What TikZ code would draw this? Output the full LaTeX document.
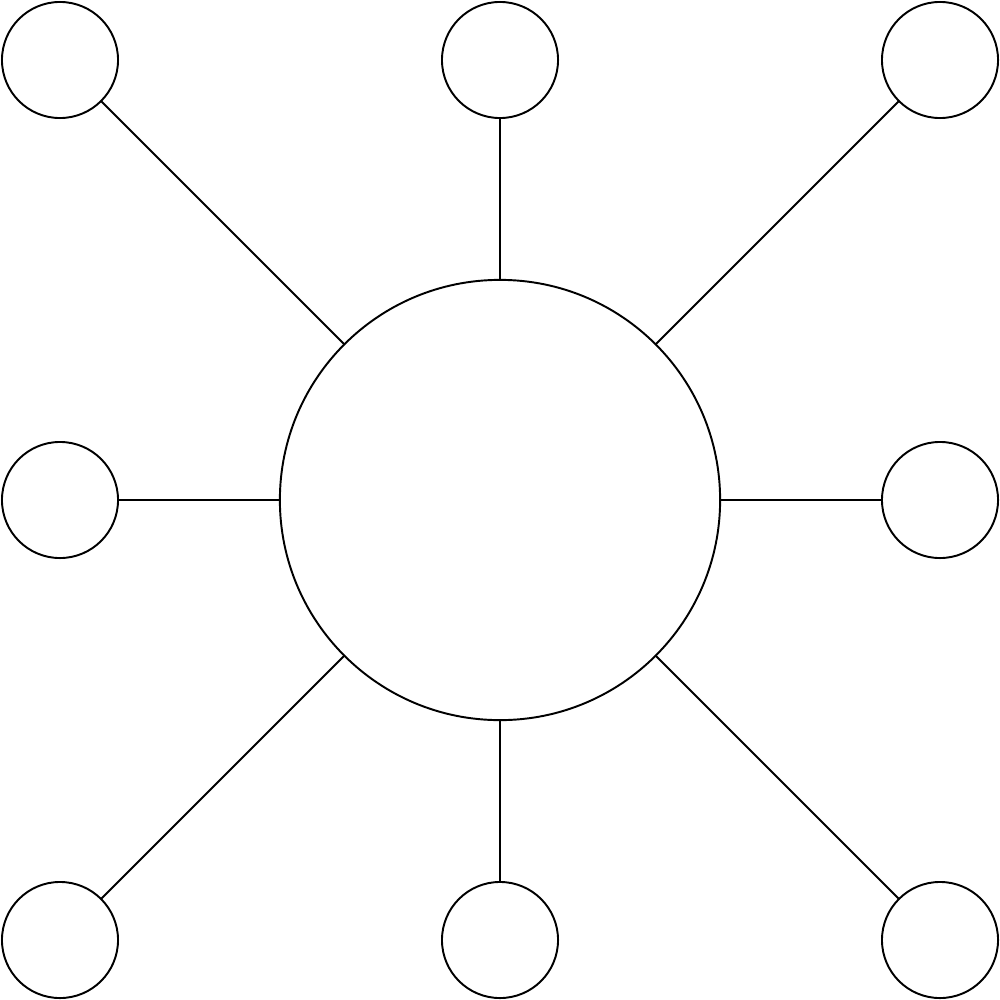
\documentclass[tikz,border=0pt]{standalone}
\usepackage{tikz}

\tikzset{
  hubnode/.style={draw,circle,line width=0.55pt,minimum size=4.4cm,inner sep=0pt,outer sep=0pt},
  leafnode/.style={draw,circle,line width=0.55pt,minimum size=1.16cm,inner sep=0pt,outer sep=0pt},
  spoke/.style={line width=0.55pt}
}

\begin{document}
\begin{tikzpicture}[x=0.01cm,y=-0.01cm]
    \useasboundingbox (0,0) rectangle (1000,1000);
    \node [hubnode] (hub) at (500,500) {};
    \foreach \name/\px/\py in {nw/60/60, n/500/60, ne/940/60, w/60/500,
                               e/940/500, sw/60/940, s/500/940, se/940/940}
    {
        \node [leafnode] (leaf-\name) at (\px,\py) {};
        \draw [spoke] (hub) -- (leaf-\name);
    }
\end{tikzpicture}
\end{document}
